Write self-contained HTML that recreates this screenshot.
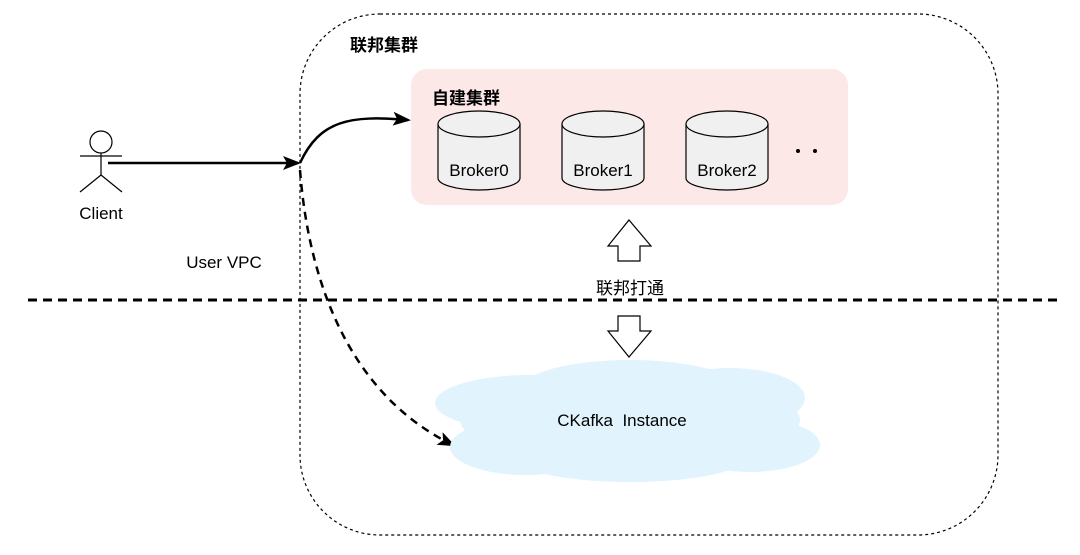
<!DOCTYPE html>
<html><head><meta charset="utf-8"><style>
html,body{margin:0;padding:0;background:#fff;}
svg{display:block;font-family:"Liberation Sans","Noto Sans CJK SC",sans-serif;}
</style></head><body>
<svg width="1080" height="555" viewBox="0 0 1080 555">
<defs>
<marker id="ah" markerWidth="18" markerHeight="14" refX="15" refY="7" orient="auto" markerUnits="userSpaceOnUse">
<path d="M0,0 L18,7 L0,14 L4,7 Z" fill="#000"/>
</marker>
</defs>
<rect x="300" y="14" width="698" height="521" rx="80" ry="80" fill="none" stroke="#000" stroke-width="1.2" stroke-dasharray="3,3"/>
<text x="350" y="51" font-size="17" font-weight="bold">联邦集群</text>
<rect x="411" y="69" width="437" height="136" rx="16" fill="#fde8e8"/>
<text x="432" y="104" font-size="17" font-weight="bold">自建集群</text>
<g stroke="#000" stroke-width="1.2" fill="#f0f0f0">
<path d="M438,124 L438,178 A41,12 0 0 0 520,178 L520,124"/>
<ellipse cx="479" cy="124" rx="41" ry="13"/>
<path d="M562,124 L562,178 A41,12 0 0 0 644,178 L644,124"/>
<ellipse cx="603" cy="124" rx="41" ry="13"/>
<path d="M686,124 L686,178 A41,12 0 0 0 768,178 L768,124"/>
<ellipse cx="727" cy="124" rx="41" ry="13"/>
</g>
<g font-size="17" text-anchor="middle">
<text x="479" y="176">Broker0</text>
<text x="603" y="176">Broker1</text>
<text x="727" y="176">Broker2</text>
</g>
<circle cx="798" cy="151" r="2"/><circle cx="815" cy="151" r="2"/>
<g stroke="#000" stroke-width="1.2" fill="none">
<circle cx="101" cy="142" r="11"/>
<line x1="101" y1="153" x2="101" y2="175"/>
<line x1="80" y1="156" x2="122" y2="156"/>
<line x1="101" y1="175" x2="80" y2="192"/>
<line x1="101" y1="175" x2="122" y2="192"/>
</g>
<text x="101" y="219" font-size="17" text-anchor="middle">Client</text>
<line x1="108" y1="163" x2="298" y2="163" stroke="#000" stroke-width="2.5" marker-end="url(#ah)"/>
<path d="M300,163 C320,120 350,115 408,120" fill="none" stroke="#000" stroke-width="2.5" marker-end="url(#ah)"/>
<path d="M300,170 C310,300 360,400 453,445" fill="none" stroke="#000" stroke-width="2.5" stroke-dasharray="8,6" marker-end="url(#ah)"/>
<text x="224" y="268" font-size="17" text-anchor="middle">User VPC</text>
<line x1="28" y1="300" x2="1058" y2="300" stroke="#000" stroke-width="3" stroke-dasharray="9,6"/>
<text x="630" y="294" font-size="17" text-anchor="middle">联邦打通</text>
<path d="M629,220 L651,246 L640,246 L640,261 L618,261 L618,246 L608,246 Z" fill="#fff" stroke="#000" stroke-width="1.2"/>
<path d="M629,357 L651,331 L640,331 L640,316 L618,316 L618,331 L608,331 Z" fill="#fff" stroke="#000" stroke-width="1.2"/>
<g fill="#e1f3fc">
<ellipse cx="630" cy="390" rx="110" ry="30"/>
<ellipse cx="530" cy="403" rx="95" ry="28"/>
<ellipse cx="730" cy="398" rx="75" ry="30"/>
<ellipse cx="750" cy="445" rx="70" ry="27"/>
<ellipse cx="525" cy="447" rx="75" ry="28"/>
<ellipse cx="630" cy="455" rx="120" ry="27"/>
<ellipse cx="630" cy="420" rx="170" ry="42"/>
</g>
<text x="622" y="426" font-size="17" text-anchor="middle" xml:space="preserve">CKafka  Instance</text>
</svg>
</body></html>
